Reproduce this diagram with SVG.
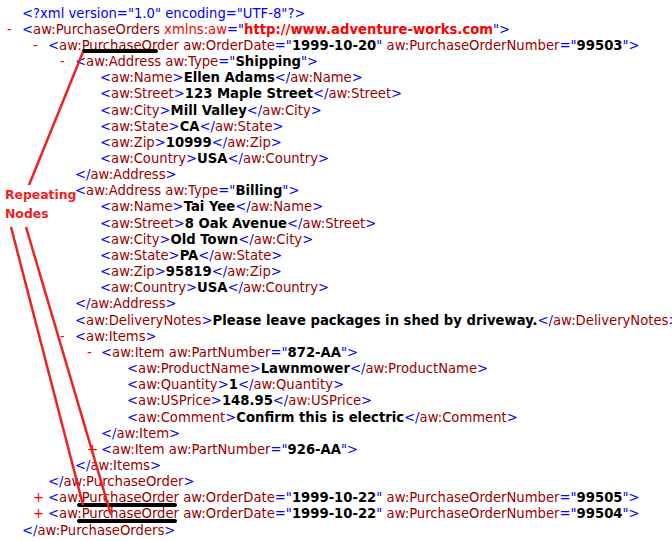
<svg xmlns="http://www.w3.org/2000/svg" width="672" height="541" viewBox="0 0 672 541">
<style>
text{font-family:"DejaVu Sans",Verdana,sans-serif;font-size:13.2px;white-space:pre}
.b{fill:#0000ff}.n{fill:#990000}.v{fill:#000;font-weight:bold}.m{fill:#ff0000}.u{fill:#ff0000;font-weight:bold}
.lab{fill:#ee2222;font-weight:bold;font-family:"DejaVu Sans",Verdana,sans-serif;font-size:12.4px}
</style>
<rect width="672" height="541" fill="#fff"/>
<g id="xml">
<text x="22" y="17.5" class="b">&lt;?xml version="1.0" encoding="UTF-8"?&gt;</text>
<text x="7" y="33.7" class="m">-</text>
<text x="22" y="33.7"><tspan class="b">&lt;</tspan><tspan class="n">aw:PurchaseOrders</tspan><tspan class="m"> xmlns:aw</tspan><tspan class="b">="</tspan><tspan class="u">http://www.adventure-works.com</tspan><tspan class="b">"&gt;</tspan></text>
<text x="33" y="49.8" class="m">-</text>
<text x="48" y="49.8"><tspan class="b">&lt;</tspan><tspan class="n">aw:PurchaseOrder aw:OrderDate</tspan><tspan class="b">="</tspan><tspan class="v">1999-10-20</tspan><tspan class="b">"</tspan><tspan class="n"> aw:PurchaseOrderNumber</tspan><tspan class="b">="</tspan><tspan class="v">99503</tspan><tspan class="b">"&gt;</tspan></text>
<text x="60" y="66" class="m">-</text>
<text x="75" y="66"><tspan class="b">&lt;</tspan><tspan class="n">aw:Address aw:Type</tspan><tspan class="b">="</tspan><tspan class="v">Shipping</tspan><tspan class="b">"&gt;</tspan></text>
<text x="100" y="82.1"><tspan class="b">&lt;</tspan><tspan class="n">aw:Name</tspan><tspan class="b">&gt;</tspan><tspan class="v">Ellen Adams</tspan><tspan class="b">&lt;/</tspan><tspan class="n">aw:Name</tspan><tspan class="b">&gt;</tspan></text>
<text x="100" y="98.3"><tspan class="b">&lt;</tspan><tspan class="n">aw:Street</tspan><tspan class="b">&gt;</tspan><tspan class="v">123 Maple Street</tspan><tspan class="b">&lt;/</tspan><tspan class="n">aw:Street</tspan><tspan class="b">&gt;</tspan></text>
<text x="100" y="114.5"><tspan class="b">&lt;</tspan><tspan class="n">aw:City</tspan><tspan class="b">&gt;</tspan><tspan class="v">Mill Valley</tspan><tspan class="b">&lt;/</tspan><tspan class="n">aw:City</tspan><tspan class="b">&gt;</tspan></text>
<text x="100" y="130.6"><tspan class="b">&lt;</tspan><tspan class="n">aw:State</tspan><tspan class="b">&gt;</tspan><tspan class="v">CA</tspan><tspan class="b">&lt;/</tspan><tspan class="n">aw:State</tspan><tspan class="b">&gt;</tspan></text>
<text x="100" y="146.8"><tspan class="b">&lt;</tspan><tspan class="n">aw:Zip</tspan><tspan class="b">&gt;</tspan><tspan class="v">10999</tspan><tspan class="b">&lt;/</tspan><tspan class="n">aw:Zip</tspan><tspan class="b">&gt;</tspan></text>
<text x="100" y="162.9"><tspan class="b">&lt;</tspan><tspan class="n">aw:Country</tspan><tspan class="b">&gt;</tspan><tspan class="v">USA</tspan><tspan class="b">&lt;/</tspan><tspan class="n">aw:Country</tspan><tspan class="b">&gt;</tspan></text>
<text x="75" y="179.1"><tspan class="b">&lt;/</tspan><tspan class="n">aw:Address</tspan><tspan class="b">&gt;</tspan></text>
<text x="75" y="195.3"><tspan class="b">&lt;</tspan><tspan class="n">aw:Address aw:Type</tspan><tspan class="b">="</tspan><tspan class="v">Billing</tspan><tspan class="b">"&gt;</tspan></text>
<text x="100" y="211.4"><tspan class="b">&lt;</tspan><tspan class="n">aw:Name</tspan><tspan class="b">&gt;</tspan><tspan class="v">Tai Yee</tspan><tspan class="b">&lt;/</tspan><tspan class="n">aw:Name</tspan><tspan class="b">&gt;</tspan></text>
<text x="100" y="227.6"><tspan class="b">&lt;</tspan><tspan class="n">aw:Street</tspan><tspan class="b">&gt;</tspan><tspan class="v">8 Oak Avenue</tspan><tspan class="b">&lt;/</tspan><tspan class="n">aw:Street</tspan><tspan class="b">&gt;</tspan></text>
<text x="100" y="243.7"><tspan class="b">&lt;</tspan><tspan class="n">aw:City</tspan><tspan class="b">&gt;</tspan><tspan class="v">Old Town</tspan><tspan class="b">&lt;/</tspan><tspan class="n">aw:City</tspan><tspan class="b">&gt;</tspan></text>
<text x="100" y="259.9"><tspan class="b">&lt;</tspan><tspan class="n">aw:State</tspan><tspan class="b">&gt;</tspan><tspan class="v">PA</tspan><tspan class="b">&lt;/</tspan><tspan class="n">aw:State</tspan><tspan class="b">&gt;</tspan></text>
<text x="100" y="276"><tspan class="b">&lt;</tspan><tspan class="n">aw:Zip</tspan><tspan class="b">&gt;</tspan><tspan class="v">95819</tspan><tspan class="b">&lt;/</tspan><tspan class="n">aw:Zip</tspan><tspan class="b">&gt;</tspan></text>
<text x="100" y="292.2"><tspan class="b">&lt;</tspan><tspan class="n">aw:Country</tspan><tspan class="b">&gt;</tspan><tspan class="v">USA</tspan><tspan class="b">&lt;/</tspan><tspan class="n">aw:Country</tspan><tspan class="b">&gt;</tspan></text>
<text x="75" y="308.4"><tspan class="b">&lt;/</tspan><tspan class="n">aw:Address</tspan><tspan class="b">&gt;</tspan></text>
<text x="75" y="324.5"><tspan class="b">&lt;</tspan><tspan class="n">aw:DeliveryNotes</tspan><tspan class="b">&gt;</tspan><tspan class="v">Please leave packages in shed by driveway.</tspan><tspan class="b">&lt;/</tspan><tspan class="n">aw:DeliveryNotes</tspan><tspan class="b">&gt;</tspan></text>
<text x="60" y="340.7" class="m">-</text>
<text x="75" y="340.7"><tspan class="b">&lt;</tspan><tspan class="n">aw:Items</tspan><tspan class="b">&gt;</tspan></text>
<text x="87" y="356.8" class="m">-</text>
<text x="101" y="356.8"><tspan class="b">&lt;</tspan><tspan class="n">aw:Item aw:PartNumber</tspan><tspan class="b">="</tspan><tspan class="v">872-AA</tspan><tspan class="b">"&gt;</tspan></text>
<text x="127" y="373"><tspan class="b">&lt;</tspan><tspan class="n">aw:ProductName</tspan><tspan class="b">&gt;</tspan><tspan class="v">Lawnmower</tspan><tspan class="b">&lt;/</tspan><tspan class="n">aw:ProductName</tspan><tspan class="b">&gt;</tspan></text>
<text x="127" y="389.2"><tspan class="b">&lt;</tspan><tspan class="n">aw:Quantity</tspan><tspan class="b">&gt;</tspan><tspan class="v">1</tspan><tspan class="b">&lt;/</tspan><tspan class="n">aw:Quantity</tspan><tspan class="b">&gt;</tspan></text>
<text x="127" y="405.3"><tspan class="b">&lt;</tspan><tspan class="n">aw:USPrice</tspan><tspan class="b">&gt;</tspan><tspan class="v">148.95</tspan><tspan class="b">&lt;/</tspan><tspan class="n">aw:USPrice</tspan><tspan class="b">&gt;</tspan></text>
<text x="127" y="421.5"><tspan class="b">&lt;</tspan><tspan class="n">aw:Comment</tspan><tspan class="b">&gt;</tspan><tspan class="v">Confirm this is electric</tspan><tspan class="b">&lt;/</tspan><tspan class="n">aw:Comment</tspan><tspan class="b">&gt;</tspan></text>
<text x="101" y="437.6"><tspan class="b">&lt;/</tspan><tspan class="n">aw:Item</tspan><tspan class="b">&gt;</tspan></text>
<text x="87" y="453.8" class="m">+</text>
<text x="101" y="453.8"><tspan class="b">&lt;</tspan><tspan class="n">aw:Item aw:PartNumber</tspan><tspan class="b">="</tspan><tspan class="v">926-AA</tspan><tspan class="b">"&gt;</tspan></text>
<text x="75" y="469.9"><tspan class="b">&lt;/</tspan><tspan class="n">aw:Items</tspan><tspan class="b">&gt;</tspan></text>
<text x="48" y="486.1"><tspan class="b">&lt;/</tspan><tspan class="n">aw:PurchaseOrder</tspan><tspan class="b">&gt;</tspan></text>
<text x="33" y="502.3" class="m">+</text>
<text x="48" y="502.3"><tspan class="b">&lt;</tspan><tspan class="n">aw:PurchaseOrder aw:OrderDate</tspan><tspan class="b">="</tspan><tspan class="v">1999-10-22</tspan><tspan class="b">"</tspan><tspan class="n"> aw:PurchaseOrderNumber</tspan><tspan class="b">="</tspan><tspan class="v">99505</tspan><tspan class="b">"&gt;</tspan></text>
<text x="33" y="518.4" class="m">+</text>
<text x="48" y="518.4"><tspan class="b">&lt;</tspan><tspan class="n">aw:PurchaseOrder aw:OrderDate</tspan><tspan class="b">="</tspan><tspan class="v">1999-10-22</tspan><tspan class="b">"</tspan><tspan class="n"> aw:PurchaseOrderNumber</tspan><tspan class="b">="</tspan><tspan class="v">99504</tspan><tspan class="b">"&gt;</tspan></text>
<text x="22" y="534.6"><tspan class="b">&lt;/</tspan><tspan class="n">aw:PurchaseOrders</tspan><tspan class="b">&gt;</tspan></text>
</g>
<g id="underlines" stroke="#000" stroke-width="4" stroke-linecap="round">
<line x1="84" y1="51" x2="156" y2="51"/>
<line x1="79" y1="505" x2="175" y2="505"/>
<line x1="79" y1="521" x2="175" y2="521"/>
</g>
<g id="connectors" stroke="#ee2222" stroke-width="2.5" fill="none">
<line x1="27" y1="190" x2="83" y2="52"/>
<line x1="11" y1="227" x2="83" y2="505"/>
<line x1="26" y1="227" x2="111" y2="515"/>
</g>
<g id="label">
<rect x="3" y="185" width="70" height="38" fill="#fff"/>
<text x="5" y="199" class="lab">Repeating</text>
<text x="5" y="218" class="lab">Nodes</text>
</g>
</svg>
